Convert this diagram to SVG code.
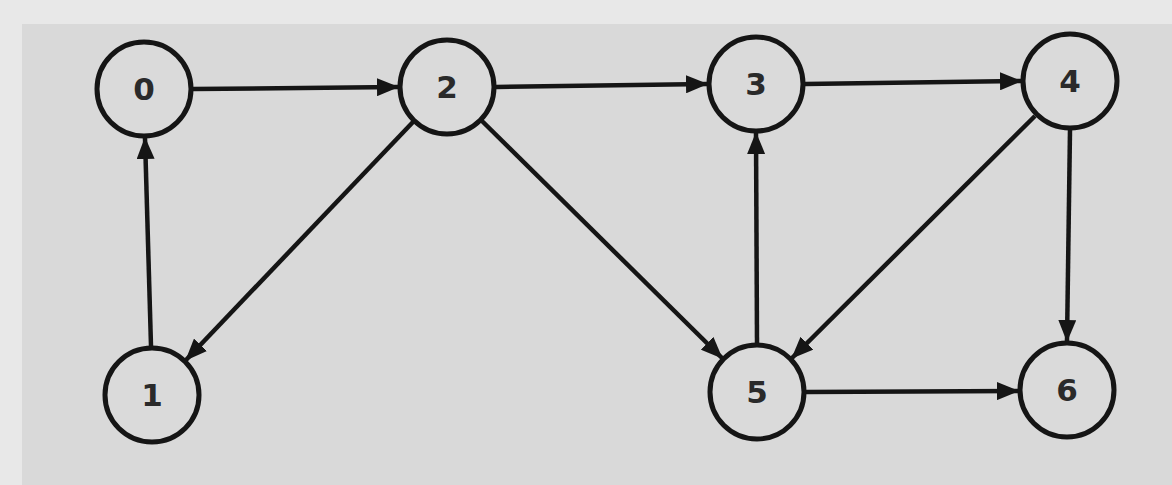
<svg xmlns="http://www.w3.org/2000/svg" width="1172" height="485" viewBox="0 0 1172 485">
  <style>
    .node circle { fill: #dadada; stroke: #151515; stroke-width: 5; }
    .node text { font-family: "DejaVu Sans", "Liberation Sans", sans-serif; font-size: 31px; font-weight: bold; fill: #2a2a2a; text-anchor: middle; dominant-baseline: central; }
    .edges line { stroke: #151515; stroke-width: 4.5; marker-end: url(#arrow); }
  </style>
  <defs>
    <marker id="arrow" viewBox="0 0 22 18" refX="21" refY="9" markerWidth="22" markerHeight="18" markerUnits="userSpaceOnUse" orient="auto">
      <path d="M0,0 L22,9 L0,18 z" fill="#151515"/>
    </marker>
  </defs>
  <rect x="0" y="0" width="1172" height="485" fill="#e8e8e8"/>
  <rect x="22" y="24" width="1150" height="461" fill="#d9d9d9"/>
  <g class="edges">
    <line x1="193" y1="89" x2="398" y2="87"/>
    <line x1="496" y1="87" x2="707" y2="84"/>
    <line x1="805" y1="84" x2="1021" y2="81"/>
    <line x1="151" y1="346" x2="145" y2="138"/>
    <line x1="413" y1="122" x2="186" y2="360"/>
    <line x1="482" y1="121" x2="722" y2="358"/>
    <line x1="757" y1="343" x2="756" y2="133"/>
    <line x1="1035" y1="116" x2="792" y2="358"/>
    <line x1="1070" y1="130" x2="1067" y2="341"/>
    <line x1="806" y1="392" x2="1018" y2="391"/>
  </g>
  <g id="node0" class="node"><circle cx="144" cy="89" r="47"/><text x="144" y="89">0</text></g>
  <g id="node1" class="node"><circle cx="152" cy="395" r="47"/><text x="152" y="395">1</text></g>
  <g id="node2" class="node"><circle cx="447" cy="87" r="47"/><text x="447" y="87">2</text></g>
  <g id="node3" class="node"><circle cx="756" cy="84" r="47"/><text x="756" y="84">3</text></g>
  <g id="node4" class="node"><circle cx="1070" cy="81" r="47"/><text x="1070" y="81">4</text></g>
  <g id="node5" class="node"><circle cx="757" cy="392" r="47"/><text x="757" y="392">5</text></g>
  <g id="node6" class="node"><circle cx="1067" cy="390" r="47"/><text x="1067" y="390">6</text></g>
</svg>
